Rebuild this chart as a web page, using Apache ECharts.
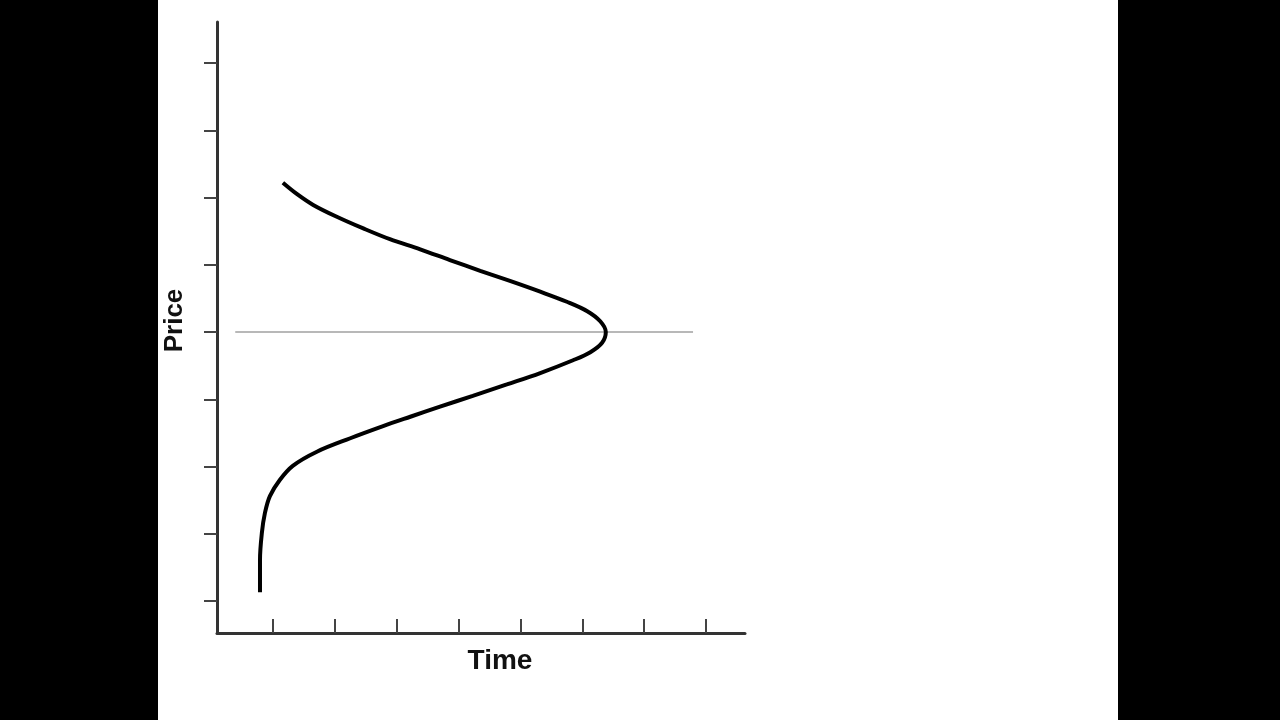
<!DOCTYPE html>
<html>
<head>
<meta charset="utf-8">
<script src="https://cdn.jsdelivr.net/npm/echarts@6/dist/echarts.min.js"></script>
<style>
html, body { margin: 0; padding: 0; background: #000; width: 1280px; height: 720px; overflow: hidden; }
#chart { position: absolute; left: 158px; top: 0; width: 960px; height: 720px; background: #fff; }
</style>
</head>
<body>
<div id="chart"></div>
<script>
// curve: time (x) against price (y), top end first
var timeVals = [1.16, 1.39, 1.65, 2.04, 2.46, 2.89, 3.38, 3.86, 4.35, 4.83, 5.32, 5.75, 6.08, 6.29, 6.38,
	6.32, 6.13, 5.85, 5.32, 4.78, 4.23, 3.70, 3.22, 2.78, 2.25, 1.71, 1.32, 1.11, 0.95, 0.87, 0.82, 0.79, 0.79];
var priceVals = [7.22, 7.05, 6.89, 6.71, 6.54, 6.38, 6.23, 6.07, 5.91, 5.76, 5.60, 5.45, 5.31, 5.16, 5.00,
	4.84, 4.70, 4.58, 4.39, 4.22, 4.05, 3.89, 3.74, 3.60, 3.42, 3.22, 3.01, 2.80, 2.56, 2.31, 2.01, 1.61, 1.13];

// horizontal reference line
var refTime = [0.39, 7.79];
var refPrice = 5;

// tick positions (no labels in the picture)
var timeTicks = [1, 2, 3, 4, 5, 6, 7, 8];
var priceTicks = [1, 2, 3, 4, 5, 6, 7, 8, 9];

var chart = echarts.init(document.getElementById('chart'));

var curve = timeVals.map(function(t, i) { return [t, priceVals[i]]; });
var refLine = refTime.map(function(t) { return [t, refPrice]; });

var option = {
	animation: false,
	grid: { left: 59, top: 22, width: 528, height: 611, outerBoundsMode: 'none', containLabel: false },
	xAxis: {
		type: 'value',
		min: 0.095,
		max: 8.63,
		name: 'Time',
		nameLocation: 'middle',
		nameGap: 14,
		nameTextStyle: {
			fontFamily: 'Liberation Sans',
			fontWeight: 'bold',
			fontSize: 28,
			color: '#111',
			padding: [0, 0, 0, 38]
		},
		axisLine: { lineStyle: { color: '#333', width: 3 } },
		axisTick: {
			inside: true,
			length: 14,
			customValues: timeTicks,
			lineStyle: { color: '#444', width: 2 }
		},
		axisLabel: { show: false },
		splitLine: { show: false }
	},
	yAxis: {
		type: 'value',
		min: 0.524,
		max: 9.61,
		name: 'Price',
		nameLocation: 'middle',
		nameGap: 29,
		nameRotate: 90,
		nameTextStyle: {
			fontFamily: 'Liberation Sans',
			fontWeight: 'bold',
			fontSize: 26,
			color: '#111',
			padding: [0, 0, 0, 14]
		},
		axisLine: { show: true, lineStyle: { color: '#333', width: 3 } },
		axisTick: {
			show: true,
			length: 13,
			customValues: priceTicks,
			lineStyle: { color: '#444', width: 2 }
		},
		axisLabel: { show: false },
		splitLine: { show: false }
	},
	series: [
		{
			type: 'line',
			data: refLine,
			symbol: 'none',
			silent: true,
			z: 1,
			lineStyle: { color: '#b8b8b8', width: 2 }
		},
		{
			type: 'line',
			data: curve,
			symbol: 'none',
			smooth: 0.35,
			z: 2,
			lineStyle: { color: '#000', width: 4 }
		}
	]
};

chart.setOption(option);
</script>
</body>
</html>
